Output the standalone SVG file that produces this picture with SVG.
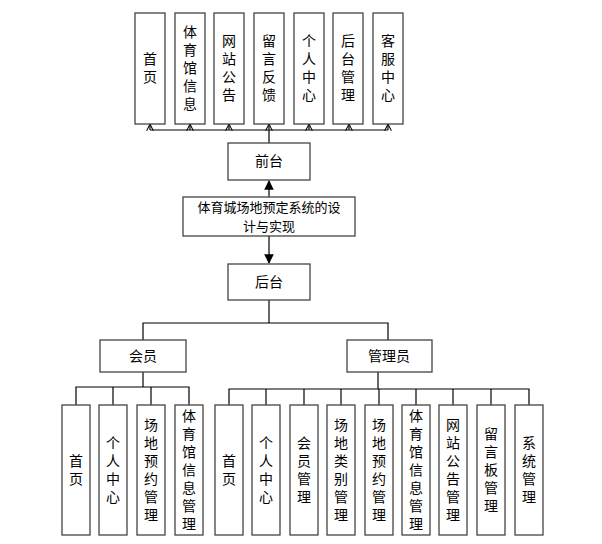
<svg xmlns="http://www.w3.org/2000/svg" width="602" height="544" viewBox="0 0 602 544">
<defs>
<style>
rect.b{fill:#fff;stroke:#444;stroke-width:1.3}
text{font-family:"Noto Sans CJK SC",sans-serif;font-size:14px;fill:#000;text-anchor:middle}
text.v{writing-mode:vertical-rl;letter-spacing:4px}
text.m{font-size:13px}
.c line,.c polyline{stroke:#000;stroke-width:1.2;fill:none}
</style>
<marker id="o" viewBox="0 0 10 10" refX="9" refY="5" markerWidth="7" markerHeight="7" orient="auto"><path d="M1,1 L9,5 L1,9" fill="none" stroke="#000" stroke-width="1.2"/></marker>
<marker id="f" viewBox="0 0 10 10" refX="9" refY="5" markerWidth="8" markerHeight="8" orient="auto"><path d="M0,0 L10,5 L0,10z" fill="#000"/></marker>
</defs>
<rect width="602" height="544" fill="#fff"/>
<g class="c">
<line x1="150" y1="130" x2="388" y2="130"/>
<line x1="150" y1="130" x2="150" y2="124" marker-end="url(#o)"/>
<line x1="190" y1="130" x2="190" y2="124" marker-end="url(#o)"/>
<line x1="229" y1="130" x2="229" y2="124" marker-end="url(#o)"/>
<line x1="269" y1="130" x2="269" y2="124" marker-end="url(#o)"/>
<line x1="309" y1="130" x2="309" y2="124" marker-end="url(#o)"/>
<line x1="349" y1="130" x2="349" y2="124" marker-end="url(#o)"/>
<line x1="388" y1="130" x2="388" y2="124" marker-end="url(#o)"/>
<line x1="269" y1="130" x2="269" y2="143" stroke-width="2"/>
<line x1="269" y1="197" x2="269" y2="181" marker-end="url(#f)"/>
<line x1="269" y1="236" x2="269" y2="263" marker-end="url(#f)"/>
<polyline points="269,300 269,323"/>
<polyline points="143,340 143,323 388,323 388,340"/>
<polyline points="143,372 143,387"/>
<polyline points="76,405 76,387 189,387 189,405"/>
<line x1="113" y1="387" x2="113" y2="405"/>
<line x1="151" y1="387" x2="151" y2="405"/>
<polyline points="378,372 378,389" stroke-width="2"/>
<polyline points="229,405 229,389 529,389 529,405"/>
<line x1="266" y1="389" x2="266" y2="405"/><line x1="304" y1="389" x2="304" y2="405"/>
<line x1="341" y1="389" x2="341" y2="405"/><line x1="379" y1="389" x2="379" y2="405"/>
<line x1="416" y1="389" x2="416" y2="405"/><line x1="453" y1="389" x2="453" y2="405"/>
<line x1="491" y1="389" x2="491" y2="405"/>
</g>
<g id="t1"><rect class="b" x="135" y="13" width="30" height="111"/><text class="v" x="150" y="70">首页</text></g>
<g id="t2"><rect class="b" x="175" y="13" width="30" height="111"/><text class="v" x="190" y="70">体育馆信息</text></g>
<g id="t3"><rect class="b" x="214" y="13" width="30" height="111"/><text class="v" x="229" y="70">网站公告</text></g>
<g id="t4"><rect class="b" x="254" y="13" width="30" height="111"/><text class="v" x="269" y="70">留言反馈</text></g>
<g id="t5"><rect class="b" x="294" y="13" width="30" height="111"/><text class="v" x="309" y="70">个人中心</text></g>
<g id="t6"><rect class="b" x="333" y="13" width="30" height="111"/><text class="v" x="348" y="70">后台管理</text></g>
<g id="t7"><rect class="b" x="373" y="13" width="30" height="111"/><text class="v" x="388" y="70">客服中心</text></g>
<g id="qt"><rect class="b" x="228" y="143" width="82" height="37"/><text x="269" y="166">前台</text></g>
<g id="main"><rect class="b" x="183" y="197" width="172" height="39"/><text class="m" x="269" y="212">体育城场地预定系统的设</text><text class="m" x="269" y="231">计与实现</text></g>
<g id="ht"><rect class="b" x="228" y="264" width="82" height="36"/><text x="269" y="287">后台</text></g>
<g id="hy"><rect class="b" x="100" y="340" width="86" height="32"/><text x="143" y="361">会员</text></g>
<g id="gly"><rect class="b" x="347" y="340" width="85" height="32"/><text x="389" y="361">管理员</text></g>
<g id="l1"><rect class="b" x="62" y="405" width="28" height="130"/><text class="v" x="76" y="472">首页</text></g>
<g id="l2"><rect class="b" x="99" y="405" width="28" height="130"/><text class="v" x="113" y="472">个人中心</text></g>
<g id="l3"><rect class="b" x="137" y="405" width="28" height="130"/><text class="v" x="151" y="472">场地预约管理</text></g>
<g id="l4"><rect class="b" x="175" y="405" width="28" height="130"/><text class="v" x="189" y="472">体育馆信息管理</text></g>
<g id="r1"><rect class="b" x="215" y="405" width="28" height="130"/><text class="v" x="229" y="472">首页</text></g>
<g id="r2"><rect class="b" x="252" y="405" width="28" height="130"/><text class="v" x="266" y="472">个人中心</text></g>
<g id="r3"><rect class="b" x="290" y="405" width="28" height="130"/><text class="v" x="304" y="472">会员管理</text></g>
<g id="r4"><rect class="b" x="327" y="405" width="28" height="130"/><text class="v" x="341" y="472">场地类别管理</text></g>
<g id="r5"><rect class="b" x="365" y="405" width="28" height="130"/><text class="v" x="379" y="472">场地预约管理</text></g>
<g id="r6"><rect class="b" x="402" y="405" width="28" height="130"/><text class="v" x="416" y="472">体育馆信息管理</text></g>
<g id="r7"><rect class="b" x="439" y="405" width="28" height="130"/><text class="v" x="453" y="472">网站公告管理</text></g>
<g id="r8"><rect class="b" x="477" y="405" width="28" height="130"/><text class="v" x="491" y="472">留言板管理</text></g>
<g id="r9"><rect class="b" x="515" y="405" width="28" height="130"/><text class="v" x="529" y="472">系统管理</text></g>
</svg>
